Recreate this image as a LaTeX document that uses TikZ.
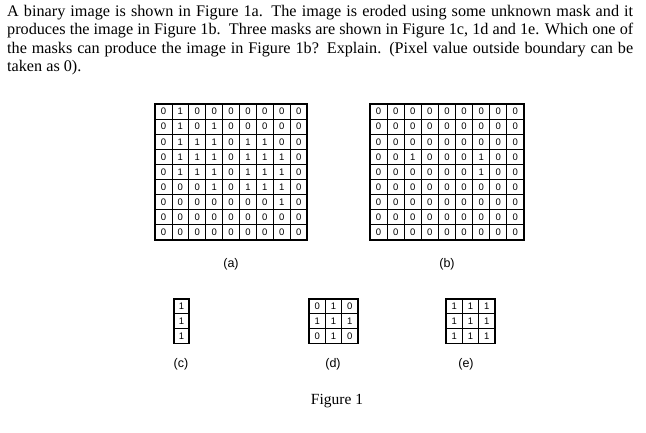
\documentclass[tikz,border=0pt]{standalone}
\usepackage{fontspec}
\setmainfont{Liberation Serif}
\newfontfamily\cellfont{Liberation Sans}
\begin{document}
\begin{tikzpicture}[x=1pt,y=-1pt,
  cellnum/.style={font=\cellfont\fontsize{9.5}{9.5}\selectfont,inner sep=0pt},
  lab/.style={font=\cellfont\fontsize{12.5}{12.5}\selectfont},
  gridline/.style={line width=0.8pt},
  frame/.style={line width=1.5pt}]
\useasboundingbox (0,0) rectangle (646,433);
\node[anchor=north west,text width=626pt,align=justify,inner sep=0pt,font=\fontsize{16.2}{18.5}\selectfont] (txt) at (7,5)
{A binary image is shown in Figure 1a. The image is eroded using some unknown mask and it produces the image in Figure 1b.\ \ Three masks are shown in Figure 1c, 1d and 1e. Which one of the masks can produce the image in Figure 1b? Explain. (Pixel value outside boundary can be taken as 0).};
\def\drawgrid#1#2#3#4#5#6{%
  \foreach \row [count=\r from 0] in {#6} {
    \foreach \v [count=\c from 0] in \row {
      \draw[gridline] (#1+\c*#3,#2+\r*#4) rectangle ++(#3,#4);
      \node[cellnum] at (#1+\c*#3+#3/2,#2+\r*#4+#4/2) {\v};
    }
  }
}
\drawgrid{155}{104}{16.9}{15.1}{9}{{0,1,0,0,0,0,0,0,0},{0,1,0,1,0,0,0,0,0},{0,1,1,1,0,1,1,0,0},{0,1,1,1,0,1,1,1,0},{0,1,1,1,0,1,1,1,0},{0,0,0,1,0,1,1,1,0},{0,0,0,0,0,0,0,1,0},{0,0,0,0,0,0,0,0,0},{0,0,0,0,0,0,0,0,0}}
\draw[frame] (155,104) rectangle (307.1,240);
\drawgrid{370}{104}{17.1}{15.1}{9}{{0,0,0,0,0,0,0,0,0},{0,0,0,0,0,0,0,0,0},{0,0,0,0,0,0,0,0,0},{0,0,1,0,0,0,1,0,0},{0,0,0,0,0,0,1,0,0},{0,0,0,0,0,0,0,0,0},{0,0,0,0,0,0,0,0,0},{0,0,0,0,0,0,0,0,0},{0,0,0,0,0,0,0,0,0}}
\draw[frame] (370,104) rectangle (524,240);
\drawgrid{174}{299}{15}{14.8}{1}{{1},{1},{1}}
\draw[frame] (174,299) rectangle (189,343.4);
\drawgrid{309}{299}{16.3}{14.8}{3}{{0,1,0},{1,1,1},{0,1,0}}
\draw[frame] (309,299) rectangle (357.9,343.4);
\drawgrid{446}{299}{16.3}{14.8}{3}{{1,1,1},{1,1,1},{1,1,1}}
\draw[frame] (446,299) rectangle (494.9,343.4);
\node[lab] (la) at (231,264) {(a)};
\node[lab] (lb) at (447,264) {(b)};
\node[lab] (lc) at (181,364) {(c)};
\node[lab] (ld) at (333,364) {(d)};
\node[lab] (le) at (466,364) {(e)};
\node[font=\fontsize{15.5}{15.5}\selectfont] (fig) at (337,401) {Figure 1};
\end{tikzpicture}
\end{document}
